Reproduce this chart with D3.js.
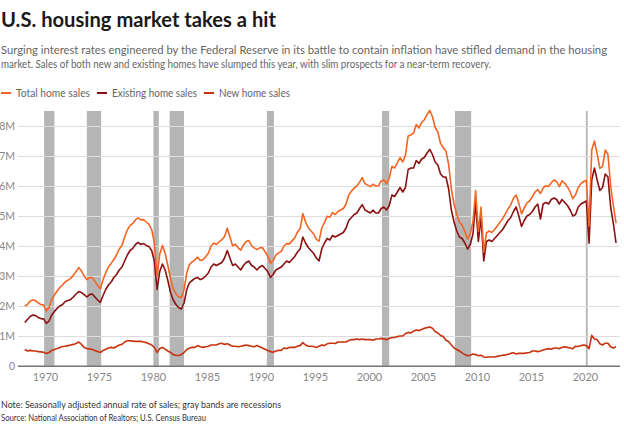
<!DOCTYPE html>
<html>
<head>
<meta charset="utf-8">
<script src="https://cdn.jsdelivr.net/npm/d3@7"></script>
<style>
  body { margin: 0; background: #fff; }
  svg { display: block; font-family: Lato, "Open Sans", sans-serif; }
</style>
</head>
<body>
<div id="chart"></div>
<script>
// --- Data (quarterly, seasonally adjusted annual rate, millions)
const firstYear = 1968;
const seriesNames = ["Total home sales", "Existing home sales", "New home sales"];
const seriesColors = ["#f26522", "#8b1010", "#c8320f"];

const totalSales = [
  2.00, 2.05, 2.17, 2.20, // 1968
  2.18, 2.10, 2.05, 2.03,
  1.84, 1.95, 2.22, 2.37, // 1970
  2.50, 2.62, 2.70, 2.81,
  2.86, 2.92, 3.02, 3.15,
  3.28, 3.17, 3.00, 2.88,
  2.95, 2.95, 2.82, 2.68,
  2.57, 2.87, 3.11, 3.30, // 1975
  3.42, 3.55, 3.70, 3.90,
  4.02, 4.30, 4.54, 4.69,
  4.75, 4.87, 4.94, 4.87,
  4.88, 4.80, 4.72, 4.55,
  4.12, 3.00, 3.73, 4.02, // 1980
  3.76, 3.35, 2.90, 2.58,
  2.41, 2.30, 2.28, 2.55,
  3.10, 3.38, 3.47, 3.54,
  3.63, 3.52, 3.54, 3.64,
  3.76, 4.00, 4.10, 4.05, // 1985
  4.14, 4.21, 4.32, 4.59,
  4.30, 4.01, 4.06, 3.94,
  3.86, 4.03, 4.15, 4.18,
  4.01, 3.94, 3.88, 3.94,
  3.95, 3.81, 3.67, 3.43, // 1990
  3.51, 3.70, 3.77, 3.82,
  4.00, 4.08, 4.07, 4.17,
  4.27, 4.46, 4.58, 5.08,
  4.80, 4.61, 4.51, 4.40,
  4.22, 4.16, 4.60, 4.78, // 1995
  4.99, 4.96, 5.11, 5.05,
  5.15, 5.20, 5.25, 5.40,
  5.70, 5.83, 5.93, 6.00,
  6.13, 6.28, 6.08, 6.03,
  5.98, 6.06, 6.00, 6.00, // 2000
  6.17, 6.20, 6.08, 6.27,
  6.65, 6.60, 6.78, 6.95,
  6.80, 7.03, 7.67, 7.70,
  7.76, 8.05, 7.93, 8.12,
  8.21, 8.38, 8.52, 8.31, // 2005
  7.95, 7.80, 7.42, 7.28,
  7.16, 6.72, 5.90, 5.40,
  5.05, 4.80, 4.69, 4.48,
  4.24, 4.41, 4.80, 5.85,
  4.49, 5.30, 3.80, 4.44, // 2010
  4.50, 4.45, 4.55, 4.67,
  4.79, 4.91, 5.07, 5.24,
  5.37, 5.59, 5.70, 5.42,
  5.07, 5.27, 5.44, 5.50,
  5.65, 5.80, 5.88, 5.75, // 2015
  5.93, 6.01, 5.98, 6.11,
  6.20, 6.15, 5.98, 6.17,
  6.09, 5.97, 5.80, 5.58,
  5.71, 5.95, 6.08, 6.15,
  6.18, 4.67, 7.20, 7.50, // 2020
  7.08, 6.59, 6.65, 7.20,
  7.05, 6.00, 5.35, 4.76
];

const existingSales = [
  1.45, 1.55, 1.65, 1.70, // 1968
  1.68, 1.62, 1.58, 1.57,
  1.42, 1.50, 1.70, 1.82, // 1970
  1.92, 2.00, 2.05, 2.15,
  2.18, 2.22, 2.30, 2.40,
  2.48, 2.45, 2.38, 2.30,
  2.38, 2.40, 2.30, 2.20,
  2.12, 2.35, 2.55, 2.70, // 1975
  2.80, 2.95, 3.05, 3.20,
  3.30, 3.50, 3.70, 3.85,
  3.92, 4.05, 4.12, 4.05,
  4.08, 4.02, 3.98, 3.85,
  3.50, 2.55, 3.15, 3.40, // 1980
  3.20, 2.85, 2.45, 2.20,
  2.05, 1.95, 1.90, 2.10,
  2.55, 2.78, 2.85, 2.92,
  2.95, 2.88, 2.92, 3.00,
  3.10, 3.30, 3.40, 3.35, // 1985
  3.40, 3.45, 3.60, 3.85,
  3.60, 3.35, 3.40, 3.30,
  3.20, 3.35, 3.45, 3.50,
  3.35, 3.30, 3.20, 3.30,
  3.35, 3.25, 3.15, 2.95, // 1990
  3.05, 3.20, 3.25, 3.30,
  3.40, 3.50, 3.45, 3.55,
  3.65, 3.80, 3.90, 4.30,
  4.10, 3.95, 3.85, 3.75,
  3.60, 3.50, 3.90, 4.10, // 1995
  4.25, 4.20, 4.35, 4.30,
  4.35, 4.40, 4.45, 4.60,
  4.85, 4.95, 5.05, 5.10,
  5.25, 5.38, 5.20, 5.15,
  5.10, 5.20, 5.10, 5.10, // 2000
  5.25, 5.30, 5.20, 5.35,
  5.70, 5.65, 5.80, 5.95,
  5.80, 5.95, 6.55, 6.60,
  6.60, 6.85, 6.75, 6.90,
  6.95, 7.10, 7.22, 7.05, // 2005
  6.80, 6.70, 6.40, 6.30,
  6.30, 5.90, 5.20, 4.80,
  4.50, 4.30, 4.25, 4.10,
  3.90, 4.05, 4.40, 5.45,
  4.15, 4.95, 3.50, 4.15, // 2010
  4.20, 4.15, 4.25, 4.35,
  4.45, 4.55, 4.70, 4.85,
  4.95, 5.15, 5.30, 5.00,
  4.65, 4.85, 5.00, 5.05,
  5.15, 5.30, 5.40, 4.90, // 2015
  5.40, 5.45, 5.40, 5.55,
  5.60, 5.55, 5.40, 5.55,
  5.45, 5.35, 5.20, 5.00,
  5.05, 5.30, 5.40, 5.45,
  5.50, 4.09, 6.20, 6.60, // 2020
  6.20, 5.85, 5.95, 6.40,
  6.30, 5.30, 4.75, 4.10
];

const newSales = [
  0.55, 0.50, 0.52, 0.50, // 1968
  0.50, 0.48, 0.47, 0.46,
  0.42, 0.45, 0.52, 0.55, // 1970
  0.58, 0.62, 0.65, 0.66,
  0.68, 0.70, 0.72, 0.75,
  0.80, 0.72, 0.62, 0.58,
  0.57, 0.55, 0.52, 0.48,
  0.45, 0.52, 0.56, 0.60, // 1975
  0.62, 0.60, 0.65, 0.70,
  0.72, 0.80, 0.84, 0.84,
  0.83, 0.82, 0.82, 0.82,
  0.80, 0.78, 0.74, 0.70,
  0.62, 0.45, 0.58, 0.62, // 1980
  0.56, 0.50, 0.45, 0.38,
  0.36, 0.35, 0.38, 0.45,
  0.55, 0.60, 0.62, 0.62,
  0.68, 0.64, 0.62, 0.64,
  0.66, 0.70, 0.70, 0.70, // 1985
  0.74, 0.76, 0.72, 0.74,
  0.70, 0.66, 0.66, 0.64,
  0.66, 0.68, 0.70, 0.68,
  0.66, 0.64, 0.68, 0.64,
  0.60, 0.56, 0.52, 0.48, // 1990
  0.46, 0.50, 0.52, 0.52,
  0.60, 0.58, 0.62, 0.62,
  0.62, 0.66, 0.68, 0.78,
  0.70, 0.66, 0.66, 0.65,
  0.62, 0.66, 0.70, 0.68, // 1995
  0.74, 0.76, 0.76, 0.75,
  0.80, 0.80, 0.80, 0.80,
  0.85, 0.88, 0.88, 0.90,
  0.88, 0.90, 0.88, 0.88,
  0.88, 0.86, 0.90, 0.90, // 2000
  0.92, 0.90, 0.88, 0.92,
  0.95, 0.95, 0.98, 1.00,
  1.00, 1.08, 1.12, 1.10,
  1.16, 1.20, 1.18, 1.22,
  1.26, 1.28, 1.30, 1.26, // 2005
  1.15, 1.10, 1.02, 0.98,
  0.86, 0.82, 0.70, 0.60,
  0.55, 0.50, 0.44, 0.38,
  0.34, 0.36, 0.40, 0.38,
  0.34, 0.36, 0.30, 0.29, // 2010
  0.30, 0.30, 0.30, 0.32,
  0.34, 0.36, 0.37, 0.39,
  0.42, 0.44, 0.40, 0.42,
  0.42, 0.42, 0.44, 0.45,
  0.50, 0.50, 0.48, 0.50, // 2015
  0.53, 0.56, 0.58, 0.56,
  0.60, 0.60, 0.58, 0.62,
  0.64, 0.62, 0.60, 0.58,
  0.66, 0.65, 0.68, 0.70,
  0.68, 0.58, 1.02, 0.90, // 2020
  0.88, 0.74, 0.70, 0.76,
  0.76, 0.64, 0.60, 0.64
];

// recessions, in decimal years
const recessionStarts = [1969.92, 1973.87, 1980.04, 1981.54, 1990.54, 2001.2, 2007.96, 2020.08];
const recessionEnds   = [1970.87, 1975.2,  1980.54, 1982.87, 1991.2,  2001.87, 2009.46, 2020.25];

const xTickValues = [1970, 1975, 1980, 1985, 1990, 1995, 2000, 2005, 2010, 2015, 2020];
const yTickValues = [0, 1, 2, 3, 4, 5, 6, 7, 8];

const titleText = "U.S. housing market takes a hit";
const subtitleLines = [
  "Surging interest rates engineered by the Federal Reserve in its battle to contain inflation have stifled demand in the housing",
  "market. Sales of both new and existing homes have slumped this year, with slim prospects for a near-term recovery."
];
const noteLines = [
  "Note: Seasonally adjusted annual rate of sales; gray bands are recessions",
  "Source: National Association of Realtors; U.S. Census Bureau"
];

// --- Layout
const width = 624;
const height = 426;
const plot = { left: 18, right: 620, top: 111, bottom: 366 };

const svg = d3.select("#chart")
  .append("svg")
  .attr("width", width)
  .attr("height", height)
  .attr("viewBox", [0, 0, width, height]);

// quarter mid-points as decimal years
const dates = existingSales.map((d, i) => firstYear + (i * 3 + 1.5) / 12);

const x = d3.scaleLinear()
  .domain([1970, 2020])
  .range([45, 585]);

const y = d3.scaleLinear()
  .domain([0, 8])
  .range([plot.bottom, 126]);

// --- Header
svg.append("text")
  .attr("x", 1)
  .attr("y", 27)
  .attr("font-size", 20)
  .attr("font-weight", 700)
  .attr("fill", "#1a1a1a")
  .attr("textLength", 275)
  .attr("lengthAdjust", "spacingAndGlyphs")
  .text(titleText);

svg.append("g")
  .selectAll("text")
  .data(subtitleLines)
  .join("text")
  .attr("x", 1)
  .attr("y", (d, i) => 54 + i * 14)
  .attr("font-size", 11)
  .attr("fill", "#666")
  .attr("textLength", (d, i) => i == 0 ? 606 : 490)
  .attr("lengthAdjust", "spacingAndGlyphs")
  .text(d => d);

// --- Legend
const legendX = [1, 97, 204];
const legendW = [74, 85, 71];
const legend = svg.append("g")
  .selectAll("g")
  .data(seriesNames)
  .join("g")
  .attr("transform", (d, i) => `translate(${legendX[i]}, 93)`);

legend.append("line")
  .attr("x1", 0).attr("x2", 10)
  .attr("stroke", (d, i) => seriesColors[i])
  .attr("stroke-width", 2);

legend.append("text")
  .attr("x", 15)
  .attr("dy", "0.35em")
  .attr("font-size", 11)
  .attr("fill", "#666")
  .attr("textLength", (d, i) => legendW[i])
  .attr("lengthAdjust", "spacingAndGlyphs")
  .text(d => d);

// --- Recession bands
svg.append("g")
  .selectAll("rect")
  .data(recessionStarts)
  .join("rect")
  .attr("x", d => x(d))
  .attr("width", (d, i) => Math.max(1.2, x(recessionEnds[i]) - x(d)))
  .attr("y", y(8.5))
  .attr("height", y(0) - y(8.5))
  .attr("fill", "#b5b5b5");

// --- Axes
svg.append("g")
  .attr("class", "axisLeft")
  .attr("transform", `translate(${plot.left}, 0)`)
  .call(d3.axisLeft(y)
    .tickValues(yTickValues)
    .tickSize(-(plot.right - plot.left))
    .tickPadding(3)
    .tickFormat(d => d == 0 ? "0" : d + "M"))
  .call(g => g.select(".domain").remove())
  .call(g => g.selectAll(".tick line")
    .attr("stroke", d => d == 0 ? "#777" : "#ddd")
    .attr("stroke-width", d => d == 0 ? 1.2 : 1))
  .call(g => g.selectAll(".tick text")
    .attr("fill", "#888")
    .attr("font-size", 10.5)
    .attr("font-family", "Lato, sans-serif"));

// keep bands above the grid, like the original
svg.selectAll("rect").raise();

svg.append("g")
  .attr("transform", `translate(0, ${plot.bottom})`)
  .call(d3.axisBottom(x)
    .tickValues(xTickValues)
    .tickSize(0)
    .tickPadding(7)
    .tickFormat(d3.format("d")))
  .call(g => g.select(".domain").remove())
  .call(g => g.selectAll(".tick text")
    .attr("fill", "#888")
    .attr("font-size", 11)
    .attr("font-family", "Lato, sans-serif"));

// zero baseline on top of the bands
svg.append("line")
  .attr("x1", plot.left)
  .attr("x2", plot.right)
  .attr("y1", y(0))
  .attr("y2", y(0))
  .attr("stroke", "#777")
  .attr("stroke-width", 1.2);

// --- Lines
const line = d3.line()
  .x((d, i) => x(dates[i]))
  .y(d => y(d));

svg.append("g")
  .attr("fill", "none")
  .attr("stroke-width", 1.6)
  .attr("stroke-linejoin", "round")
  .selectAll("path")
  .data([newSales, existingSales, totalSales])
  .join("path")
  .attr("stroke", (d, i) => seriesColors[2 - i])
  .attr("d", line);

// --- Footer
svg.append("g")
  .selectAll("text")
  .data(noteLines)
  .join("text")
  .attr("x", 1)
  .attr("y", (d, i) => 408 + i * 13)
  .attr("font-size", 10)
  .attr("fill", "#333")
  .attr("textLength", (d, i) => i == 0 ? 280 : 205)
  .attr("lengthAdjust", "spacingAndGlyphs")
  .text(d => d);
</script>
</body>
</html>
